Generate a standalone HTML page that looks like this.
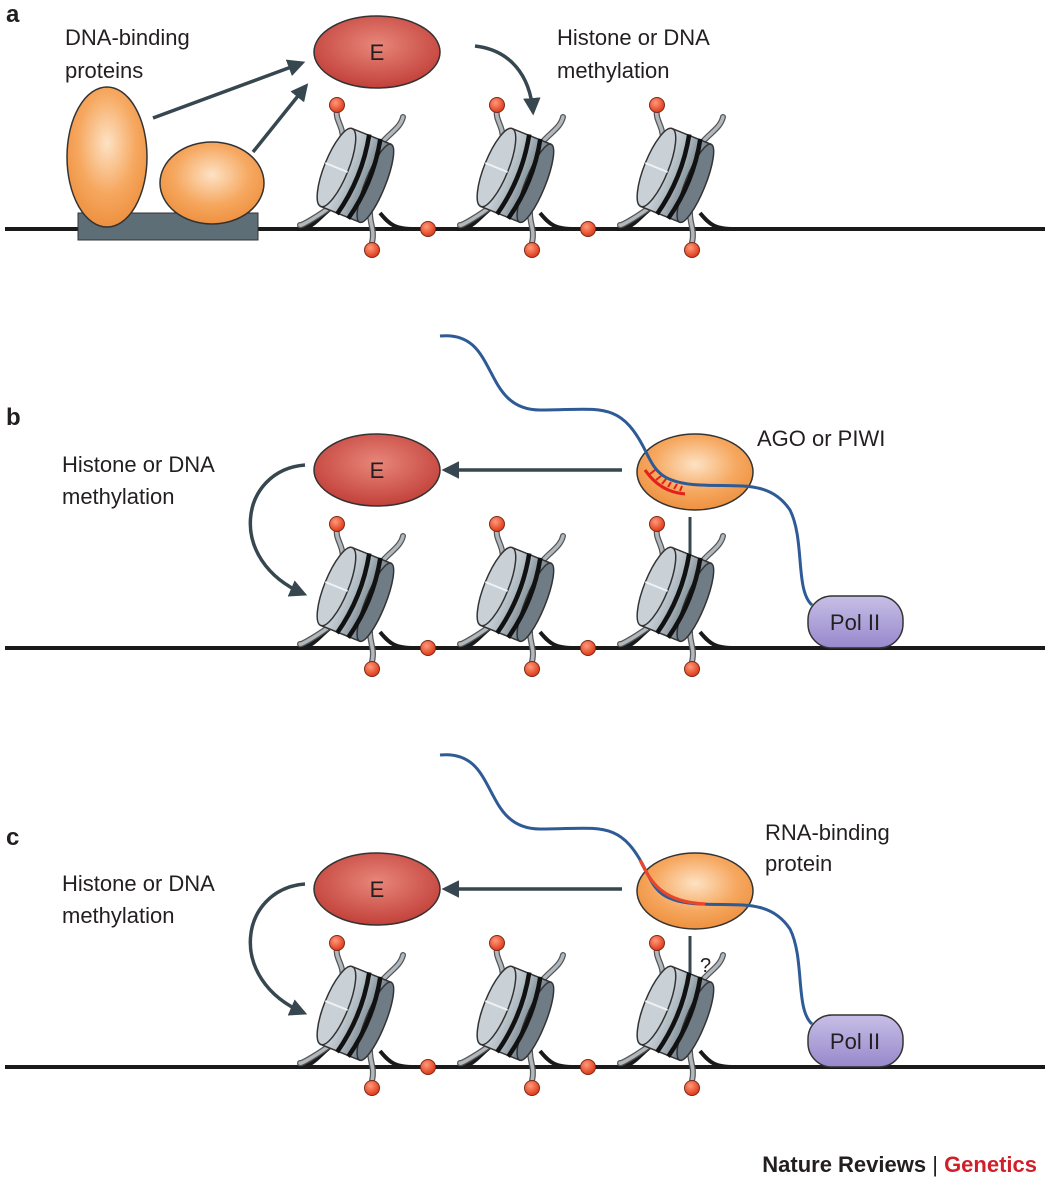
<!DOCTYPE html>
<html><head><meta charset="utf-8"><style>
html,body{margin:0;padding:0;background:#fff}
svg{display:block}
text{font-family:"Liberation Sans",sans-serif;fill:#231f20}
</style></head><body>
<svg width="1050" height="1183" viewBox="0 0 1050 1183" xmlns="http://www.w3.org/2000/svg">
<defs>
<radialGradient id="og" cx="50%" cy="40%" r="60%"><stop offset="0" stop-color="#fde2c4"/><stop offset="0.6" stop-color="#f6a860"/><stop offset="1" stop-color="#ee9140"/></radialGradient>
<radialGradient id="rg" cx="50%" cy="40%" r="60%"><stop offset="0" stop-color="#e8867a"/><stop offset="1" stop-color="#c2413a"/></radialGradient>
<radialGradient id="ball" cx="40%" cy="35%" r="60%"><stop offset="0" stop-color="#ff9a7a"/><stop offset="1" stop-color="#e0401f"/></radialGradient>
<linearGradient id="pg" x1="0" y1="0" x2="0" y2="1"><stop offset="0" stop-color="#c7bfe6"/><stop offset="1" stop-color="#9788cc"/></linearGradient>
<linearGradient id="cyl" x1="0" y1="0" x2="1" y2="0"><stop offset="0" stop-color="#d7dde1"/><stop offset="0.5" stop-color="#a9b4bc"/><stop offset="1" stop-color="#6f7c85"/></linearGradient>
<marker id="ah" viewBox="0 0 10 10" refX="8" refY="5" markerWidth="5" markerHeight="5" orient="auto"><path d="M0,0 L10,5 L0,10 Z" fill="#37474f"/></marker>
<g id="nuc">
  <path d="M-60,54 C-40,54 -40,45 -20,30" stroke="#1a1a1a" stroke-width="4" fill="none"/>
  <path d="M25,38 C35,50 40,54 60,54" stroke="#1a1a1a" stroke-width="4" fill="none"/>
  <path d="M-22,30 C-35,40 -55,52 -55,50" stroke="#555" stroke-width="6" fill="none" stroke-linecap="round"/>
  <path d="M-22,30 C-35,40 -55,52 -55,50" stroke="#b0b8be" stroke-width="3.5" fill="none" stroke-linecap="round"/>
  <path d="M-12,-35 C-12,-50 -20,-55 -18,-65" stroke="#555" stroke-width="6" fill="none" stroke-linecap="round"/>
  <path d="M-12,-35 C-12,-50 -20,-55 -18,-65" stroke="#b0b8be" stroke-width="3.5" fill="none" stroke-linecap="round"/>
  <path d="M22,-25 C30,-40 45,-45 48,-58" stroke="#555" stroke-width="6" fill="none" stroke-linecap="round"/>
  <path d="M22,-25 C30,-40 45,-45 48,-58" stroke="#b0b8be" stroke-width="3.5" fill="none" stroke-linecap="round"/>
  <path d="M15,38 C15,50 20,55 17,68" stroke="#555" stroke-width="6" fill="none" stroke-linecap="round"/>
  <path d="M15,38 C15,50 20,55 17,68" stroke="#b0b8be" stroke-width="3.5" fill="none" stroke-linecap="round"/>
  <g transform="rotate(22)">
    <rect x="-20" y="-42" width="42" height="84" fill="url(#cyl)" stroke="#333" stroke-width="1.5"/>
    <ellipse cx="22" cy="0" rx="10" ry="42" fill="#6f7c85" stroke="#333" stroke-width="1.5"/>
    <path d="M-2,-43 Q8,0 -2,43" stroke="#111" stroke-width="4.5" fill="none"/>
    <path d="M10,-43 Q20,0 10,43" stroke="#111" stroke-width="4.5" fill="none"/>
    <ellipse cx="-20" cy="0" rx="12" ry="42" fill="#c9d1d7" stroke="#333" stroke-width="1.5"/>
    <path d="M-32,0 L-8,0" stroke="#eef2f4" stroke-width="2"/>
  </g>
  <circle cx="-18" cy="-70" r="7.5" fill="url(#ball)" stroke="#7a2a1a"/>
  <circle cx="17" cy="75" r="7.5" fill="url(#ball)" stroke="#7a2a1a"/>
</g>
<g id="track">
  <line x1="5" y1="0" x2="1045" y2="0" stroke="#1a1a1a" stroke-width="4"/>
  <use href="#nuc" x="355" y="-54"/>
  <use href="#nuc" x="515" y="-54"/>
  <use href="#nuc" x="675" y="-54"/>
  <circle cx="428" cy="0" r="7.5" fill="url(#ball)" stroke="#7a2a1a"/>
  <circle cx="588" cy="0" r="7.5" fill="url(#ball)" stroke="#7a2a1a"/>
</g>
</defs>

<!-- Panel a -->
<text x="6" y="22" font-size="24" font-weight="bold">a</text>
<use href="#track" y="229"/>
<rect x="78" y="213" width="180" height="27" fill="#5d6e77" stroke="#333"/>
<ellipse cx="107" cy="157" rx="40" ry="70" fill="url(#og)" stroke="#333" stroke-width="1.5"/>
<ellipse cx="212" cy="183" rx="52" ry="41" fill="url(#og)" stroke="#333" stroke-width="1.5"/>
<ellipse cx="377" cy="52" rx="63" ry="36" fill="url(#rg)" stroke="#333" stroke-width="1.5"/>
<text x="377" y="60" font-size="22" text-anchor="middle">E</text>
<line x1="153" y1="118" x2="302" y2="63" stroke="#37474f" stroke-width="3.5" marker-end="url(#ah)"/>
<line x1="253" y1="152" x2="306" y2="86" stroke="#37474f" stroke-width="3.5" marker-end="url(#ah)"/>
<path d="M475,46 C510,50 530,75 533,112" stroke="#37474f" stroke-width="3.5" fill="none" marker-end="url(#ah)"/>
<text x="65" y="45" font-size="22">DNA-binding</text>
<text x="65" y="78" font-size="22">proteins</text>
<text x="557" y="45" font-size="22">Histone or DNA</text>
<text x="557" y="78" font-size="22">methylation</text>

<!-- Panel b -->
<text x="6" y="425" font-size="24" font-weight="bold">b</text>
<use href="#track" y="648"/>
<ellipse cx="377" cy="470" rx="63" ry="36" fill="url(#rg)" stroke="#333" stroke-width="1.5"/>
<text x="377" y="478" font-size="22" text-anchor="middle">E</text>
<line x1="622" y1="470" x2="445" y2="470" stroke="#37474f" stroke-width="3.5" marker-end="url(#ah)"/>
<path d="M305,465 C240,470 225,560 304,594" stroke="#37474f" stroke-width="3.5" fill="none" marker-end="url(#ah)"/>
<ellipse cx="695" cy="472" rx="58" ry="38" fill="url(#og)" stroke="#333" stroke-width="1.5"/>
<path d="M645,470 Q660,492 685,494" stroke="#e32119" stroke-width="3" fill="none"/>
<path d="M650,474 l5,-4 M656,480 l5,-4 M662,484 l4,-5 M668,487 l3,-5 M674,489 l3,-5 M680,491 l2,-5" stroke="#e32119" stroke-width="2"/>
<path d="M440,336 C500,330 480,410 540,410 C600,410 620,400 645,450 C655,470 660,483 700,485 C740,487 770,480 790,510 C805,540 795,590 812,605" stroke="#2e5a96" stroke-width="3" fill="none"/>
<line x1="690" y1="517" x2="690" y2="554" stroke="#37474f" stroke-width="3"/>
<rect x="808" y="596" width="95" height="52" rx="24" fill="url(#pg)" stroke="#333" stroke-width="1.5"/>
<text x="855" y="630" font-size="22" text-anchor="middle">Pol II</text>
<text x="757" y="446" font-size="22">AGO or PIWI</text>
<text x="62" y="472" font-size="22">Histone or DNA</text>
<text x="62" y="504" font-size="22">methylation</text>

<!-- Panel c -->
<text x="6" y="845" font-size="24" font-weight="bold">c</text>
<use href="#track" y="1067"/>
<ellipse cx="377" cy="889" rx="63" ry="36" fill="url(#rg)" stroke="#333" stroke-width="1.5"/>
<text x="377" y="897" font-size="22" text-anchor="middle">E</text>
<line x1="622" y1="889" x2="445" y2="889" stroke="#37474f" stroke-width="3.5" marker-end="url(#ah)"/>
<path d="M305,884 C240,889 225,979 304,1013" stroke="#37474f" stroke-width="3.5" fill="none" marker-end="url(#ah)"/>
<ellipse cx="695" cy="891" rx="58" ry="38" fill="url(#og)" stroke="#333" stroke-width="1.5"/>
<path d="M440,755 C500,749 480,829 540,829 C600,829 620,819 645,869 C655,889 660,902 700,904 C740,906 770,899 790,929 C805,959 795,1009 812,1024" stroke="#2e5a96" stroke-width="3" fill="none"/>
<path d="M640,860 C650,880 660,902 705,904" stroke="#e8452a" stroke-width="3.2" fill="none"/>
<line x1="690" y1="936" x2="690" y2="973" stroke="#37474f" stroke-width="3"/>
<text x="700" y="972" font-size="20">?</text>
<rect x="808" y="1015" width="95" height="52" rx="24" fill="url(#pg)" stroke="#333" stroke-width="1.5"/>
<text x="855" y="1049" font-size="22" text-anchor="middle">Pol II</text>
<text x="765" y="840" font-size="22">RNA-binding</text>
<text x="765" y="871" font-size="22">protein</text>
<text x="62" y="891" font-size="22">Histone or DNA</text>
<text x="62" y="923" font-size="22">methylation</text>

<text x="1037" y="1172" font-size="22" font-weight="bold" text-anchor="end">Nature Reviews <tspan font-weight="normal">|</tspan> <tspan fill="#d11f2a">Genetics</tspan></text>
</svg>
</body></html>
